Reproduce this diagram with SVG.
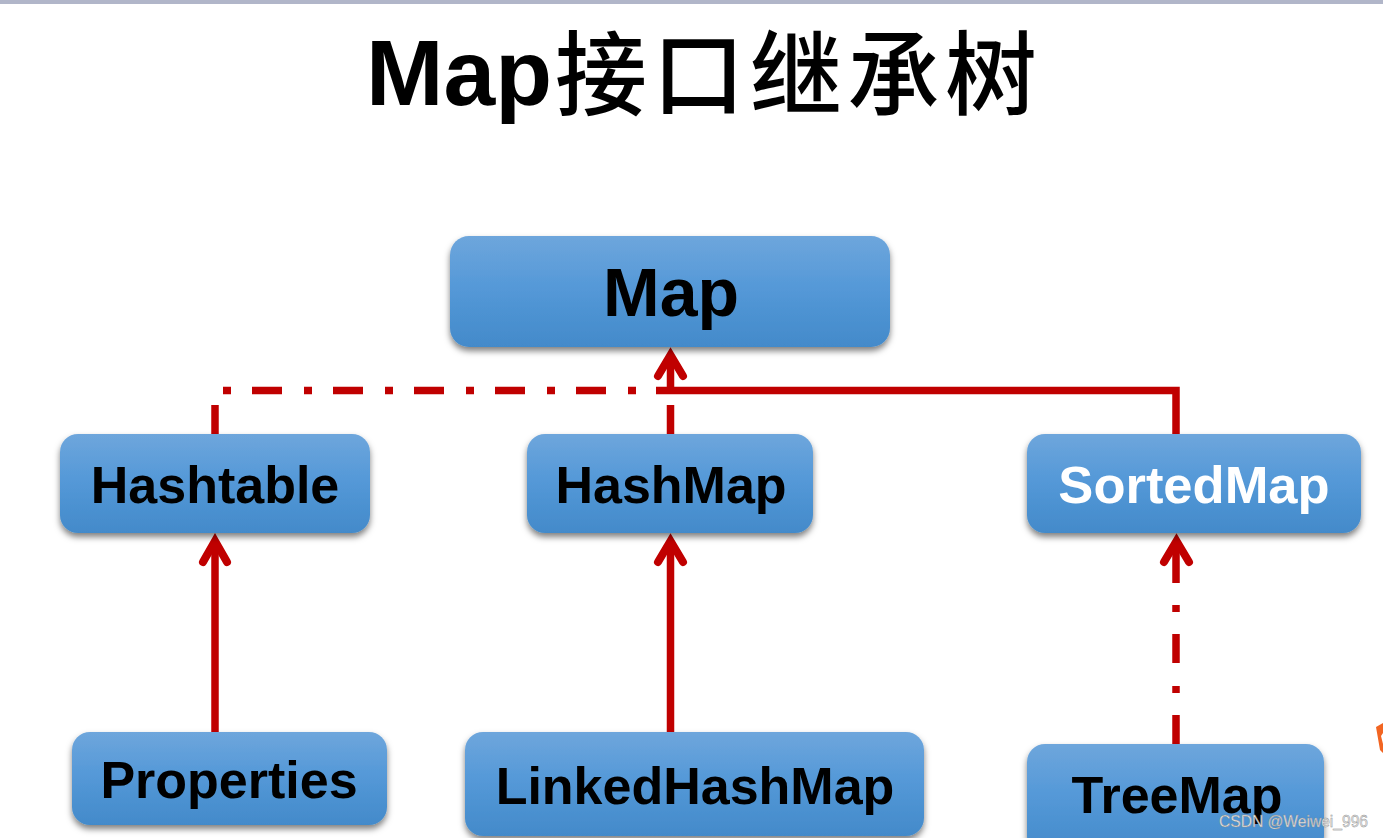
<svg xmlns="http://www.w3.org/2000/svg" width="1383" height="838" viewBox="0 0 1383 838">
<style>
.box{fill:url(#blue);filter:url(#sh)}
.t{font-family:"Liberation Sans",Arial,sans-serif;font-weight:700;text-anchor:middle;fill:#000}
.l{fill:none;stroke:#c00000;stroke-width:7.500}
.d{stroke-dasharray:8 21 30 22}
.h{fill:none;stroke:#c00000;stroke-width:8;stroke-linecap:round;stroke-linejoin:miter}
</style>
<defs>
<linearGradient id="blue" x1="0" y1="0" x2="0" y2="1">
<stop offset="0" stop-color="#6ea6dc"/><stop offset="0.45" stop-color="#5599d8"/><stop offset="1" stop-color="#438aca"/>
</linearGradient>
<filter id="sh" x="-10%" y="-10%" width="120%" height="125%">
<feDropShadow dx="0" dy="4" stdDeviation="3" flood-color="#000" flood-opacity="0.5"/>
</filter>
</defs>
<rect width="1383" height="838" fill="#fff"/>
<rect width="1383" height="4" fill="#b1b6c9"/>
<text x="366" y="105" font-size="93" font-family="Liberation Sans,sans-serif" font-weight="700" fill="#000">Map</text>
<text x="555" y="108" font-size="92" letter-spacing="5.500" font-family="Noto Sans CJK SC,sans-serif" font-weight="500" fill="#000">接口继承树</text>
<g id="connectors">
<path class="l" d="M670.500 434V405M670.500 394V357"/>
<path class="h" d="M658 376L670.500 355L683 376"/>
<path class="l" d="M656 390.500H1176V434"/>
<path class="l" d="M215 434V405"/>
<path class="l d" d="M223 390.500H640"/>
<path class="l" d="M215 732V543"/>
<path class="h" d="M203 562L215 541L227 562"/>
<path class="l" d="M670.500 732V543"/>
<path class="h" d="M658 562L670.500 541L683 562"/>
<path class="l" d="M1176 744V715M1176 693V686M1176 663V634M1176 612V605M1176 583V543"/>
<path class="h" d="M1164 562L1176.500 541L1189 562"/>
</g>
<g id="map"><rect class="box" x="450" y="236" width="440" height="111" rx="19"/><text class="t" x="671" y="316" font-size="68">Map</text></g>
<g id="hashtable"><rect class="box" x="60" y="434" width="310" height="99" rx="18"/><text class="t" x="215" y="503" font-size="52">Hashtable</text></g>
<g id="hashmap"><rect class="box" x="527" y="434" width="286" height="99" rx="18"/><text class="t" x="671" y="503" font-size="52">HashMap</text></g>
<g id="sortedmap"><rect class="box" x="1027" y="434" width="334" height="99" rx="18"/><text class="t" x="1194" y="503" font-size="52.500" style="fill:#fff">SortedMap</text></g>
<g id="properties"><rect class="box" x="72" y="732" width="315" height="93" rx="18"/><text class="t" x="229" y="798" font-size="52">Properties</text></g>
<g id="linkedhashmap"><rect class="box" x="465" y="732" width="459" height="104" rx="18"/><text class="t" x="695" y="804" font-size="52">LinkedHashMap</text></g>
<g id="treemap"><rect class="box" x="1027" y="744" width="297" height="110" rx="18"/><text class="t" x="1177" y="813" font-size="52">TreeMap</text></g>
<path d="M1376 727L1383 723V733L1381 736L1383 744V753L1380 750Z" fill="#f26522"/>
<text x="1219" y="827" font-size="15.600" font-family="Liberation Sans,sans-serif" fill="#e8e8e8" stroke="#8a8a8a" stroke-width="0.400">CSDN @Weiwei_996</text>
</svg>
